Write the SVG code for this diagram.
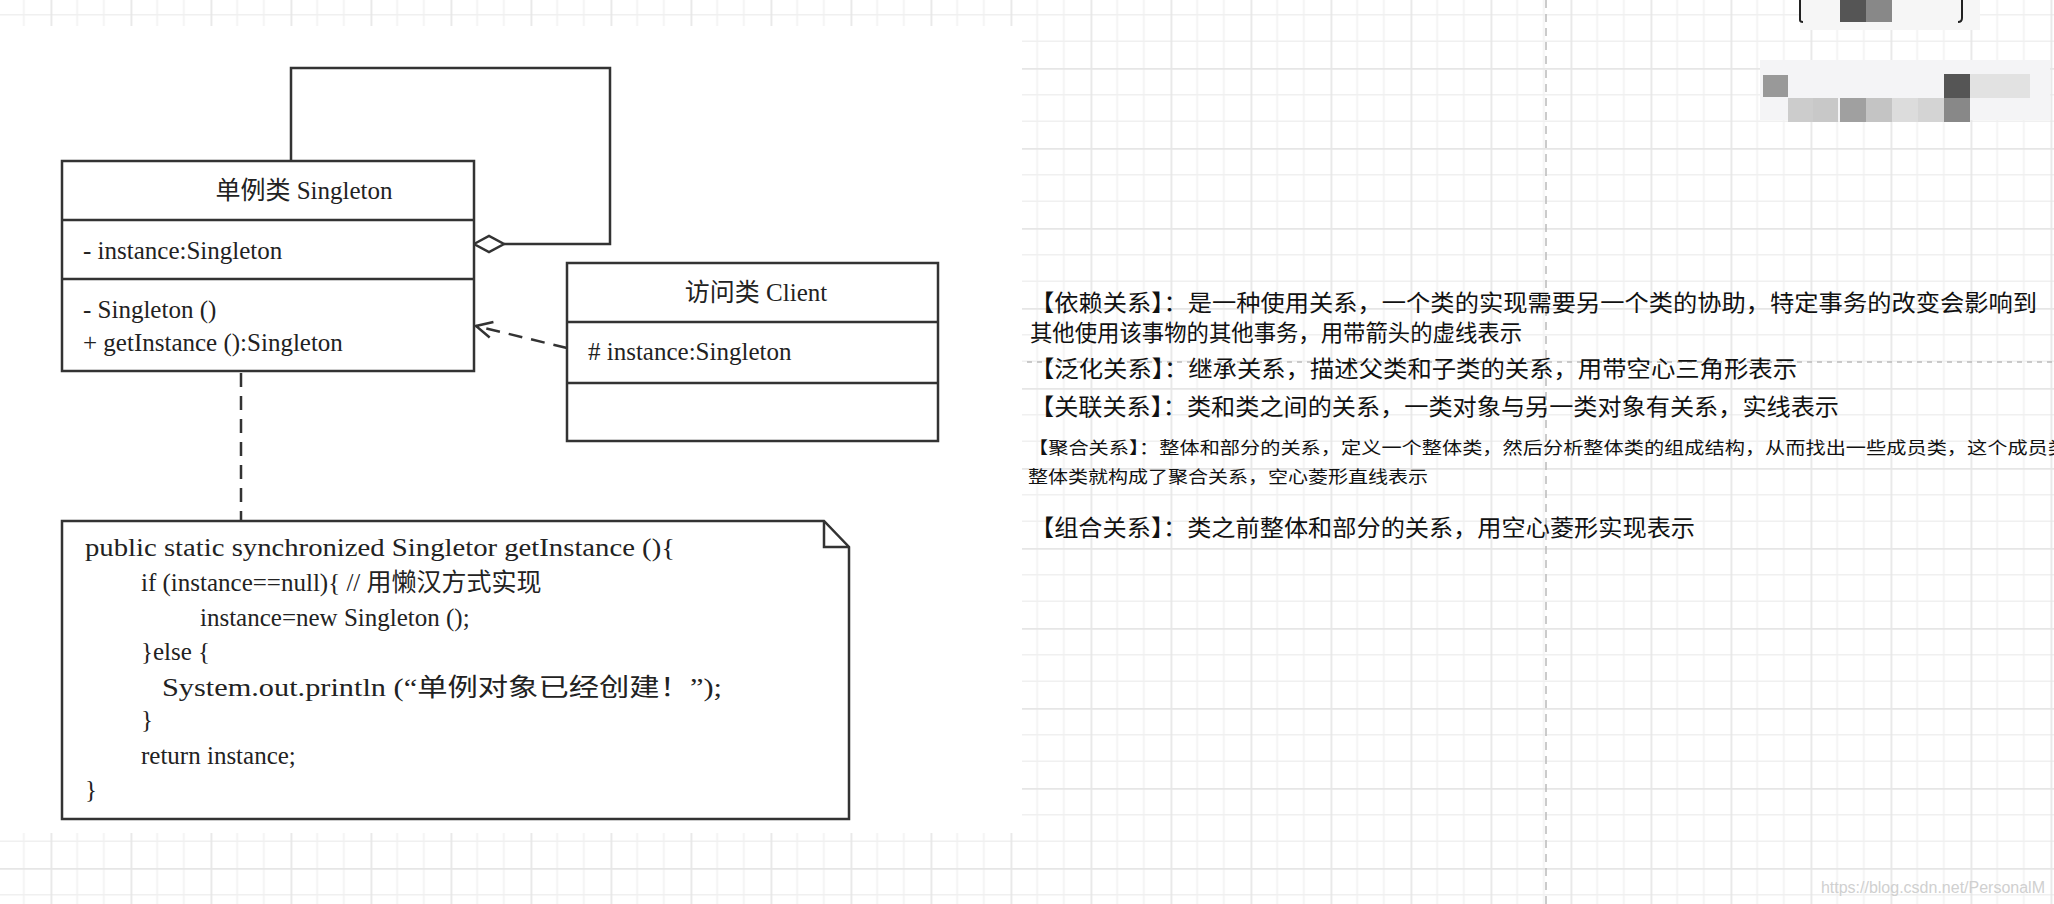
<svg xmlns="http://www.w3.org/2000/svg" width="2054" height="904" viewBox="0 0 2054 904">
<style>
.box{fill:#fff;stroke:#333;stroke-width:2.5}
.ln{fill:none;stroke:#333;stroke-width:2.5}
.dash{fill:none;stroke:#333;stroke-width:2.5;stroke-dasharray:14 9}
.t{font-family:"Liberation Serif","Noto Sans CJK SC",serif;font-size:25px;fill:#222}
.cn{font-family:"Noto Sans CJK SC","Noto Sans",sans-serif;font-size:23px;fill:#111}
.cs{font-family:"Noto Sans CJK SC","Noto Sans",sans-serif;font-size:17px;fill:#111}
</style>
<defs>
<pattern id="grid" width="80" height="80" patternUnits="userSpaceOnUse" x="50.5" y="68">
<path d="M26.67 0V80M53.33 0V80M0 26.67H80M0 53.33H80" stroke="#f0f0f0" stroke-width="1.5" fill="none"/>
<path d="M0.75 0V80M0 0.75H80" stroke="#e6e6e6" stroke-width="2" fill="none"/>
</pattern>
<marker id="open" markerWidth="20" markerHeight="20" refX="18" refY="10" orient="auto" markerUnits="userSpaceOnUse">
<path d="M2 2L18 10L2 18" fill="none" stroke="#333" stroke-width="2.5"/>
</marker>
</defs>
<rect width="2054" height="904" fill="#fff"/>
<rect width="2054" height="904" fill="url(#grid)"/>
<rect x="0" y="26" width="1022" height="807" fill="#fff"/>
<g id="guides">
<line x1="1546" y1="0" x2="1546" y2="904" stroke="#bbb" stroke-width="1.5" stroke-dasharray="8 6"/>
<line x1="1027" y1="362" x2="2054" y2="362" stroke="#bbb" stroke-width="1.5" stroke-dasharray="5 5"/>
</g>
<g id="mosaic">
<rect x="1760" y="60" width="290" height="60" fill="#f4f4f6"/>
<rect x="1800" y="0" width="180" height="30" fill="#f6f6f6"/>
<path d="M1800 0V20Q1800 22 1803 22M1962 0V18Q1962 22 1958 22" stroke="#222" stroke-width="2" fill="none"/>
<rect x="1840" y="0" width="26" height="22" fill="#555"/>
<rect x="1866" y="0" width="26" height="22" fill="#888"/>
<rect x="1763" y="75" width="25" height="22" fill="#999"/>
<rect x="1788" y="98" width="25" height="24" fill="#ccc"/>
<rect x="1813" y="98" width="25" height="24" fill="#c8c8c8"/>
<rect x="1840" y="98" width="26" height="24" fill="#a0a0a0"/>
<rect x="1866" y="98" width="26" height="24" fill="#c4c4c4"/>
<rect x="1892" y="98" width="26" height="24" fill="#dcdcdc"/>
<rect x="1918" y="98" width="26" height="24" fill="#d4d4d4"/>
<rect x="1944" y="74" width="26" height="24" fill="#555"/>
<rect x="1944" y="98" width="26" height="24" fill="#888"/>
<rect x="1970" y="74" width="60" height="24" fill="#e2e2e2"/>
</g>
<g id="connectors">
<polyline class="ln" points="291,161 291,68 610,68 610,244 504,244"/>
<path d="M474 244L489 236L504 244L489 252Z" fill="#fff" stroke="#333" stroke-width="2.5"/>
<line class="dash" x1="567" y1="348" x2="476" y2="326" marker-end="url(#open)"/>
<line class="dash" x1="241" y1="373" x2="241" y2="521"/>
</g>
<g id="singleton">
<rect class="box" x="62" y="161" width="412" height="210"/>
<line class="ln" x1="62" y1="220" x2="474" y2="220"/>
<line class="ln" x1="62" y1="279" x2="474" y2="279"/>
<text class="t" x="304" y="199" text-anchor="middle" font-size="26">单例类  Singleton</text>
<text class="t" x="83" y="259">- instance:Singleton</text>
<text class="t" x="83" y="318">- Singleton ()</text>
<text class="t" x="83" y="351">+ getInstance ():Singleton</text>
</g>
<g id="client">
<rect class="box" x="567" y="263" width="371" height="178"/>
<line class="ln" x1="567" y1="322" x2="938" y2="322"/>
<line class="ln" x1="567" y1="383" x2="938" y2="383"/>
<text class="t" x="756" y="301" text-anchor="middle" font-size="26">访问类  Client</text>
<text class="t" x="588" y="360">#  instance:Singleton</text>
</g>
<g id="note">
<path class="box" d="M62 521H824L849 547V819H62Z"/>
<path class="ln" d="M824 521V547H849"/>
<text class="t" x="85" y="556" textLength="590" lengthAdjust="spacingAndGlyphs">public static synchronized Singletor getInstance (){</text>
<text class="t" x="141" y="591">if (instance==null){ // 用懒汉方式实现</text>
<text class="t" x="200" y="626">instance=new Singleton ();</text>
<text class="t" x="141" y="660">}else {</text>
<text class="t" x="162" y="696" textLength="560" lengthAdjust="spacingAndGlyphs">System.out.println (“单例对象已经创建！”);</text>
<text class="t" x="141" y="728">}</text>
<text class="t" x="141" y="764">return instance;</text>
<text class="t" x="85" y="798">}</text>
</g>
<g id="notes-text">
<text class="cn" x="1030" y="311" textLength="1007" lengthAdjust="spacingAndGlyphs">【依赖关系】：是一种使用关系，一个类的实现需要另一个类的协助，特定事务的改变会影响到</text>
<text class="cn" x="1030" y="341" textLength="492" lengthAdjust="spacingAndGlyphs">其他使用该事物的其他事务，用带箭头的虚线表示</text>
<text class="cn" x="1030" y="377" textLength="767" lengthAdjust="spacingAndGlyphs">【泛化关系】：继承关系，描述父类和子类的关系，用带空心三角形表示</text>
<text class="cn" x="1030" y="415" textLength="809" lengthAdjust="spacingAndGlyphs">【关联关系】：类和类之间的关系，一类对象与另一类对象有关系，实线表示</text>
<text class="cs" x="1028" y="454" textLength="1040" lengthAdjust="spacingAndGlyphs">【聚合关系】：整体和部分的关系，定义一个整体类，然后分析整体类的组成结构，从而找出一些成员类，这个成员类</text>
<text class="cs" x="1028" y="483" textLength="400" lengthAdjust="spacingAndGlyphs">整体类就构成了聚合关系，空心菱形直线表示</text>
<text class="cn" x="1030" y="536" textLength="665" lengthAdjust="spacingAndGlyphs">【组合关系】：类之前整体和部分的关系，用空心菱形实现表示</text>
<text x="2045" y="893" text-anchor="end" font-family="Liberation Sans,sans-serif" font-size="16" fill="#d0d0d0">https://blog.csdn.net/PersonalM</text>
</g>
</svg>
